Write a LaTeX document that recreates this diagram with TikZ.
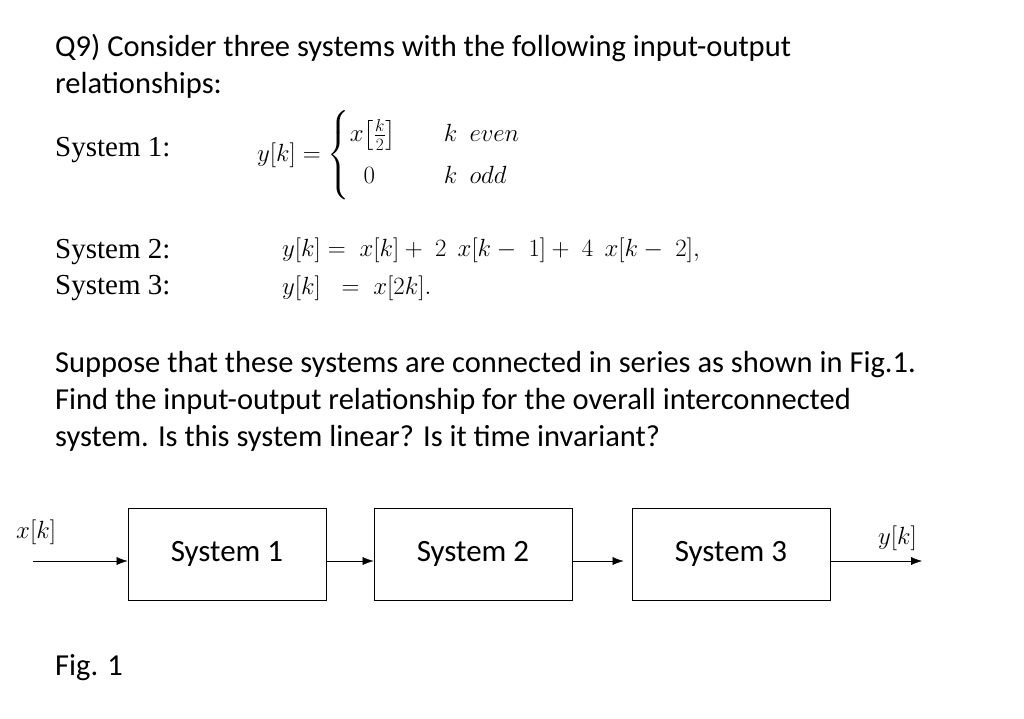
\documentclass[tikz,border=0pt]{standalone}
\usepackage{amsmath}
\usepackage{fontspec}
\setmainfont{Carlito}
\newfontfamily\timesfont{Liberation Serif}
\usetikzlibrary{positioning,arrows.meta}
\begin{document}
\begin{tikzpicture}[x=1pt,y=-1pt]
  \tikzset{block/.style={draw,line width=0.9pt,minimum width=198pt,minimum height=92pt,font=\fontsize{31}{36}\selectfont}}
  \tikzset{txt/.style={anchor=west,inner sep=0pt,font=\fontsize{30.5}{37}\selectfont,align=left}}
  \tikzset{sys/.style={anchor=west,inner sep=0pt,font=\timesfont\fontsize{29}{34}\selectfont}}
  \tikzset{eq/.style={anchor=west,inner sep=0pt,font=\fontsize{27}{32}\selectfont}}
  \tikzset{flow/.style={-{Latex[length=11pt,width=8pt]}}}
  \useasboundingbox (0,0) rectangle (1024,718);
  % question text
  \node[txt] (q) at (55,66) {Q9) Consider three systems with the following input-output\\relationships:};
  \node[sys] (s1) at (55,150) {System 1:};
  \node[sys] (s2) at (55,252) {System 2:};
  \node[sys] (s3) at (55,288) {System 3:};
  \node[eq] (e1) at (257,155) {$y[k]=\begin{cases} x\!\left[\frac{k}{2}\right] & \;\;\;k\ \ even\\[4pt] \;\;0 & \;\;\;k\ \ odd\end{cases}$};
  \node[eq] (e2) at (282,250) {$y[k]=\;x[k]+\;2\;\,x[k-\;1]+\;4\;\,x[k-\;2],$};
  \node[eq] (e3) at (282,288) {$y[k]\;\;=\;x[2k].$};
  \node[txt] (p) at (55,401) {Suppose that these systems are connected in series as shown in Fig.1.\\Find the input-output relationship for the overall interconnected\\system. Is this system linear? Is it time invariant?};
  % block diagram
  \node[block] (b1) at (227,554) {System 1};
  \node[block] (b2) at (473,554) {System 2};
  \node[block] (b3) at (731,554) {System 3};
  \coordinate (in) at (33,561);
  \coordinate (out) at (922,561);
  \node[eq,font=\fontsize{31}{34}\selectfont] (xk) at (16,532) {$x[k]$};
  \node[eq,font=\fontsize{31}{34}\selectfont] (yk) at (878,538) {$y[k]$};
  \draw[flow] (in) -- (in -| b1.west);
  \draw[flow] (b1.east |- in) -- (b2.west |- in);
  \draw[flow] (b2.east |- in) -- ([xshift=-8pt]b3.west |- in);
  \draw[flow] (b3.east |- in) -- (out);
  \node[txt] (fig) at (55,668) {Fig. 1};
\end{tikzpicture}
\end{document}
